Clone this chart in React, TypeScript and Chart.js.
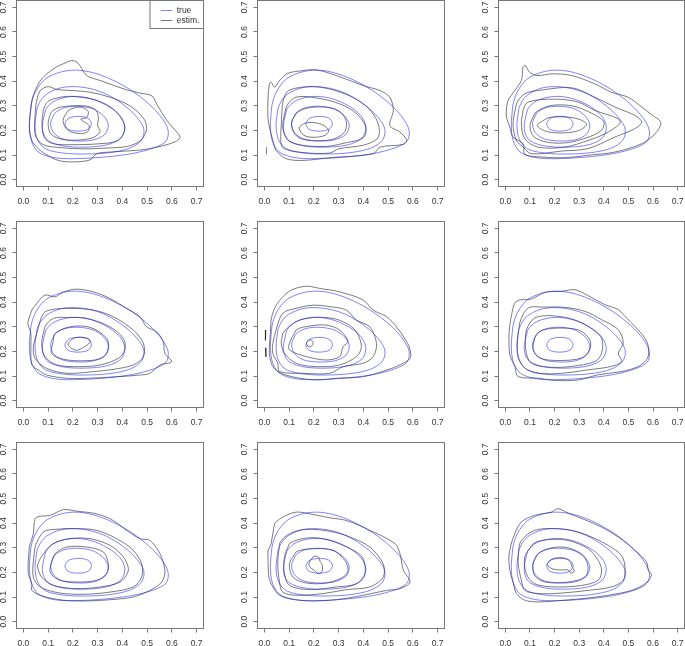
import React, { useEffect, useRef } from "react";
import { Chart, registerables } from "chart.js";

Chart.register(...registerables);

type Pt = [number, number];

// ---------- axis / legend data ----------
const tickValues: number[] = [0, 0.1, 0.2, 0.3, 0.4, 0.5, 0.6, 0.7];
const axisMin = -0.028;
const axisMax = 0.728;
const legendLabels: string[] = ["true", "estim."];

// ---------- true density contours (same in every panel) ----------
const trueContours: Pt[][] = [
  [[0.024,0.22],[0.03,0.3],[0.05,0.36],[0.09,0.41],[0.15,0.437],[0.21,0.445],[0.28,0.435],[0.36,0.405],[0.44,0.36],[0.51,0.305],[0.56,0.25],[0.585,0.2],[0.577,0.157],[0.53,0.13],[0.44,0.106],[0.32,0.091],[0.2,0.085],[0.12,0.09],[0.06,0.112],[0.032,0.158]],
  [[0.047,0.22],[0.055,0.29],[0.085,0.34],[0.14,0.37],[0.2,0.378],[0.27,0.37],[0.34,0.345],[0.41,0.3],[0.46,0.252],[0.487,0.205],[0.477,0.16],[0.43,0.128],[0.35,0.11],[0.25,0.104],[0.16,0.108],[0.09,0.125],[0.057,0.162]],
  [[0.077,0.225],[0.09,0.285],[0.13,0.322],[0.2,0.338],[0.27,0.33],[0.34,0.3],[0.39,0.26],[0.41,0.215],[0.395,0.17],[0.34,0.142],[0.25,0.132],[0.16,0.137],[0.1,0.158],[0.08,0.19]],
  [[0.11,0.228],[0.125,0.268],[0.165,0.292],[0.22,0.298],[0.28,0.288],[0.325,0.258],[0.343,0.222],[0.33,0.185],[0.285,0.162],[0.22,0.157],[0.16,0.165],[0.122,0.19]],
  [[0.168,0.227],[0.18,0.248],[0.22,0.257],[0.26,0.25],[0.275,0.228],[0.262,0.205],[0.22,0.197],[0.18,0.205]],
];

// ---------- estimated density contours, one list per panel ----------
const estimPanel1: Pt[][] = [
  [[0.024,0.214],[0.034,0.32],[0.067,0.4],[0.121,0.45],[0.175,0.477],[0.2,0.484],[0.222,0.472],[0.256,0.423],[0.31,0.403],[0.417,0.365],[0.47,0.352],[0.52,0.34],[0.54,0.305],[0.58,0.24],[0.62,0.193],[0.633,0.172],[0.612,0.153],[0.54,0.132],[0.47,0.12],[0.35,0.112],[0.296,0.105],[0.269,0.08],[0.2,0.072],[0.141,0.078],[0.087,0.105],[0.054,0.132],[0.034,0.16]],
  [[0.045,0.22],[0.05,0.3],[0.067,0.36],[0.1,0.378],[0.135,0.366],[0.2,0.362],[0.27,0.355],[0.35,0.335],[0.43,0.3],[0.485,0.25],[0.498,0.205],[0.475,0.16],[0.42,0.135],[0.33,0.128],[0.24,0.125],[0.15,0.13],[0.08,0.142],[0.05,0.175]],
  [[0.075,0.227],[0.08,0.28],[0.1,0.318],[0.15,0.335],[0.2,0.338],[0.296,0.322],[0.37,0.281],[0.41,0.214],[0.384,0.16],[0.31,0.146],[0.2,0.142],[0.12,0.146],[0.085,0.17]],
  [[0.1,0.23],[0.11,0.27],[0.14,0.292],[0.2,0.3],[0.26,0.298],[0.295,0.28],[0.303,0.25],[0.3,0.22],[0.31,0.195],[0.28,0.17],[0.2,0.16],[0.14,0.168],[0.108,0.19]],
  [[0.16,0.24],[0.18,0.28],[0.23,0.295],[0.262,0.277],[0.255,0.252],[0.232,0.245],[0.265,0.22],[0.26,0.195],[0.23,0.187],[0.18,0.2]],
];
const estimPanel2: Pt[][] = [
  [[0.014,0.254],[0.014,0.322],[0.02,0.389],[0.027,0.396],[0.041,0.376],[0.061,0.403],[0.095,0.432],[0.156,0.443],[0.21,0.446],[0.291,0.423],[0.4,0.382],[0.467,0.362],[0.507,0.335],[0.521,0.281],[0.507,0.22],[0.548,0.193],[0.575,0.16],[0.561,0.143],[0.467,0.132],[0.44,0.105],[0.264,0.089],[0.156,0.078],[0.088,0.085],[0.047,0.119],[0.034,0.16],[0.02,0.214]],
  [[0.068,0.22],[0.072,0.3],[0.09,0.355],[0.128,0.372],[0.196,0.378],[0.264,0.368],[0.345,0.34],[0.41,0.3],[0.45,0.25],[0.465,0.2],[0.455,0.165],[0.4,0.14],[0.3,0.125],[0.264,0.108],[0.156,0.11],[0.074,0.13],[0.066,0.175]],
  [[0.074,0.214],[0.088,0.295],[0.128,0.335],[0.21,0.332],[0.304,0.308],[0.37,0.27],[0.41,0.214],[0.4,0.17],[0.33,0.15],[0.25,0.135],[0.15,0.14],[0.095,0.16]],
  [[0.11,0.235],[0.13,0.27],[0.17,0.29],[0.24,0.295],[0.3,0.28],[0.33,0.24],[0.325,0.195],[0.28,0.165],[0.2,0.158],[0.14,0.17],[0.115,0.2]],
  [[0.14,0.21],[0.16,0.228],[0.2,0.232],[0.24,0.22],[0.26,0.2],[0.245,0.18],[0.2,0.172],[0.16,0.18]],
];
const estimOpen2: Pt[][] = [[[0.008,0.103],[0.008,0.132]]];
const estimPanel3: Pt[][] = [
  [[0.004,0.254],[0.004,0.281],[0.011,0.322],[0.038,0.362],[0.065,0.403],[0.072,0.457],[0.081,0.464],[0.099,0.436],[0.133,0.423],[0.187,0.43],[0.269,0.423],[0.364,0.389],[0.431,0.355],[0.499,0.335],[0.554,0.295],[0.6,0.26],[0.632,0.232],[0.608,0.186],[0.554,0.146],[0.445,0.112],[0.336,0.099],[0.241,0.089],[0.147,0.092],[0.079,0.103],[0.072,0.146],[0.031,0.173],[0.018,0.214]],
  [[0.031,0.227],[0.045,0.308],[0.079,0.349],[0.133,0.362],[0.269,0.373],[0.364,0.335],[0.445,0.295],[0.526,0.261],[0.554,0.234],[0.526,0.207],[0.445,0.173],[0.336,0.126],[0.228,0.116],[0.106,0.105],[0.072,0.132],[0.045,0.159]],
  [[0.065,0.227],[0.072,0.281],[0.092,0.315],[0.2,0.327],[0.296,0.315],[0.364,0.281],[0.459,0.247],[0.465,0.227],[0.404,0.186],[0.336,0.159],[0.241,0.132],[0.133,0.132],[0.079,0.166]],
  [[0.1,0.22],[0.12,0.27],[0.18,0.3],[0.27,0.3],[0.35,0.27],[0.4,0.235],[0.39,0.2],[0.33,0.17],[0.25,0.15],[0.17,0.152],[0.115,0.175]],
  [[0.13,0.22],[0.17,0.25],[0.24,0.255],[0.3,0.245],[0.33,0.225],[0.3,0.2],[0.24,0.19],[0.17,0.195]],
];
const estimPanel4: Pt[][] = [
  [[0.02,0.327],[0.034,0.368],[0.054,0.395],[0.087,0.429],[0.128,0.422],[0.162,0.442],[0.215,0.453],[0.283,0.442],[0.35,0.415],[0.417,0.375],[0.471,0.341],[0.498,0.3],[0.538,0.28],[0.565,0.24],[0.572,0.192],[0.599,0.158],[0.552,0.145],[0.511,0.111],[0.471,0.104],[0.377,0.097],[0.269,0.091],[0.175,0.091],[0.094,0.104],[0.061,0.124],[0.034,0.145],[0.03,0.206],[0.03,0.273],[0.018,0.31]],
  [[0.04,0.219],[0.054,0.273],[0.081,0.355],[0.121,0.371],[0.188,0.375],[0.283,0.368],[0.363,0.341],[0.444,0.287],[0.485,0.233],[0.485,0.179],[0.444,0.145],[0.363,0.127],[0.283,0.118],[0.175,0.111],[0.094,0.131],[0.047,0.172]],
  [[0.074,0.233],[0.087,0.3],[0.121,0.334],[0.175,0.338],[0.256,0.334],[0.35,0.3],[0.404,0.253],[0.41,0.206],[0.384,0.172],[0.31,0.145],[0.229,0.138],[0.135,0.145],[0.087,0.179]],
  [[0.114,0.192],[0.12,0.24],[0.128,0.273],[0.188,0.3],[0.269,0.298],[0.337,0.253],[0.343,0.206],[0.316,0.172],[0.242,0.162],[0.162,0.168]],
  [[0.18,0.23],[0.2,0.252],[0.235,0.258],[0.265,0.25],[0.27,0.237],[0.22,0.205],[0.195,0.212]],
];
const estimPanel5: Pt[][] = [
  [[0.023,0.26],[0.027,0.327],[0.041,0.375],[0.068,0.415],[0.108,0.449],[0.169,0.465],[0.223,0.456],[0.304,0.442],[0.399,0.409],[0.44,0.368],[0.494,0.341],[0.534,0.3],[0.575,0.24],[0.589,0.206],[0.589,0.172],[0.548,0.145],[0.494,0.124],[0.399,0.097],[0.291,0.091],[0.223,0.084],[0.142,0.091],[0.068,0.111],[0.034,0.138],[0.02,0.192]],
  [[0.034,0.233],[0.047,0.287],[0.074,0.355],[0.128,0.375],[0.196,0.388],[0.264,0.382],[0.331,0.368],[0.372,0.327],[0.426,0.3],[0.453,0.233],[0.44,0.179],[0.399,0.152],[0.318,0.138],[0.264,0.111],[0.156,0.111],[0.061,0.118],[0.054,0.152],[0.034,0.192]],
  [[0.068,0.233],[0.074,0.273],[0.128,0.321],[0.196,0.338],[0.277,0.334],[0.331,0.314],[0.372,0.28],[0.392,0.219],[0.372,0.179],[0.304,0.145],[0.21,0.138],[0.128,0.152],[0.081,0.192]],
  [[0.101,0.233],[0.128,0.287],[0.183,0.303],[0.25,0.307],[0.304,0.287],[0.338,0.24],[0.318,0.219],[0.304,0.179],[0.25,0.165],[0.169,0.179],[0.101,0.206]],
  [[0.17,0.233],[0.175,0.243],[0.185,0.247],[0.195,0.24],[0.196,0.228],[0.187,0.219],[0.175,0.222]],
];
const estimOpen5: Pt[][] = [[[0.006,0.287],[0.004,0.245]], [[0.004,0.215],[0.006,0.178]]];
const estimPanel6: Pt[][] = [
  [[0.018,0.186],[0.014,0.261],[0.024,0.342],[0.045,0.404],[0.106,0.413],[0.16,0.44],[0.228,0.444],[0.282,0.451],[0.336,0.427],[0.404,0.39],[0.459,0.37],[0.486,0.342],[0.526,0.302],[0.567,0.254],[0.581,0.22],[0.578,0.173],[0.54,0.139],[0.472,0.118],[0.377,0.105],[0.296,0.084],[0.201,0.082],[0.133,0.091],[0.052,0.098],[0.038,0.139]],
  [[0.049,0.247],[0.058,0.315],[0.092,0.376],[0.16,0.38],[0.242,0.379],[0.323,0.363],[0.391,0.329],[0.459,0.288],[0.479,0.234],[0.459,0.193],[0.472,0.159],[0.431,0.139],[0.336,0.125],[0.228,0.111],[0.133,0.111],[0.079,0.132],[0.052,0.179]],
  [[0.081,0.247],[0.085,0.288],[0.119,0.336],[0.187,0.345],[0.269,0.332],[0.336,0.302],[0.391,0.254],[0.391,0.193],[0.364,0.159],[0.269,0.139],[0.174,0.136],[0.106,0.152],[0.085,0.193]],
  [[0.113,0.207],[0.119,0.254],[0.147,0.285],[0.228,0.295],[0.303,0.285],[0.343,0.247],[0.343,0.207],[0.309,0.173],[0.215,0.163],[0.14,0.173]],
];
const estimPanel7: Pt[][] = [
  [[0.02,0.249],[0.024,0.303],[0.04,0.357],[0.047,0.418],[0.067,0.428],[0.108,0.432],[0.162,0.455],[0.215,0.449],[0.296,0.438],[0.363,0.411],[0.417,0.371],[0.471,0.337],[0.511,0.33],[0.552,0.276],[0.572,0.208],[0.559,0.161],[0.511,0.127],[0.444,0.1],[0.35,0.089],[0.256,0.084],[0.162,0.087],[0.081,0.103],[0.034,0.127],[0.034,0.154],[0.02,0.195]],
  [[0.038,0.222],[0.047,0.303],[0.081,0.364],[0.128,0.375],[0.215,0.378],[0.296,0.371],[0.377,0.337],[0.444,0.29],[0.478,0.235],[0.478,0.181],[0.444,0.141],[0.35,0.12],[0.242,0.111],[0.148,0.116],[0.081,0.134],[0.054,0.154],[0.04,0.181]],
  [[0.057,0.222],[0.061,0.242],[0.081,0.276],[0.121,0.317],[0.188,0.337],[0.269,0.337],[0.35,0.31],[0.404,0.263],[0.424,0.208],[0.39,0.161],[0.31,0.141],[0.215,0.134],[0.121,0.147],[0.074,0.181]],
  [[0.108,0.202],[0.114,0.242],[0.128,0.276],[0.175,0.303],[0.256,0.303],[0.323,0.283],[0.343,0.235],[0.336,0.195],[0.296,0.168],[0.215,0.161],[0.141,0.17]],
];
const estimPanel8: Pt[][] = [
  [[0.018,0.181],[0.014,0.283],[0.027,0.317],[0.041,0.398],[0.047,0.405],[0.074,0.425],[0.128,0.445],[0.183,0.438],[0.264,0.422],[0.331,0.411],[0.426,0.371],[0.528,0.317],[0.548,0.276],[0.562,0.208],[0.589,0.161],[0.548,0.134],[0.494,0.127],[0.399,0.107],[0.291,0.089],[0.183,0.084],[0.101,0.093],[0.061,0.107],[0.034,0.141]],
  [[0.054,0.235],[0.061,0.317],[0.101,0.357],[0.169,0.375],[0.264,0.367],[0.345,0.344],[0.426,0.303],[0.48,0.235],[0.48,0.181],[0.426,0.141],[0.331,0.13],[0.237,0.114],[0.128,0.107],[0.074,0.12],[0.061,0.161]],
  [[0.081,0.263],[0.101,0.317],[0.183,0.341],[0.264,0.33],[0.359,0.29],[0.399,0.256],[0.406,0.195],[0.372,0.154],[0.291,0.141],[0.183,0.13],[0.101,0.147],[0.081,0.195]],
  [[0.101,0.235],[0.128,0.283],[0.196,0.296],[0.277,0.29],[0.325,0.249],[0.338,0.208],[0.318,0.181],[0.25,0.157],[0.169,0.157],[0.115,0.181]],
  [[0.18,0.235],[0.195,0.262],[0.215,0.265],[0.225,0.245],[0.235,0.225],[0.23,0.2],[0.215,0.196],[0.2,0.21],[0.185,0.22]],
];
const estimPanel9: Pt[][] = [
  [[0.014,0.263],[0.022,0.31],[0.038,0.357],[0.065,0.405],[0.119,0.432],[0.187,0.445],[0.214,0.459],[0.255,0.441],[0.323,0.414],[0.391,0.384],[0.459,0.344],[0.526,0.29],[0.574,0.242],[0.581,0.208],[0.594,0.188],[0.567,0.154],[0.513,0.127],[0.418,0.107],[0.309,0.093],[0.201,0.084],[0.133,0.08],[0.079,0.087],[0.045,0.114],[0.031,0.161],[0.018,0.208]],
  [[0.052,0.235],[0.054,0.29],[0.065,0.33],[0.119,0.371],[0.201,0.378],[0.282,0.368],[0.35,0.344],[0.418,0.31],[0.472,0.269],[0.486,0.222],[0.479,0.168],[0.431,0.141],[0.336,0.127],[0.228,0.116],[0.133,0.114],[0.079,0.127],[0.065,0.168]],
  [[0.079,0.263],[0.113,0.317],[0.174,0.333],[0.255,0.33],[0.336,0.296],[0.377,0.249],[0.391,0.208],[0.377,0.168],[0.309,0.147],[0.201,0.141],[0.119,0.154],[0.085,0.195]],
  [[0.113,0.235],[0.133,0.276],[0.187,0.3],[0.255,0.3],[0.316,0.269],[0.336,0.222],[0.323,0.181],[0.255,0.161],[0.16,0.161],[0.119,0.188]],
  [[0.17,0.232],[0.185,0.252],[0.22,0.26],[0.25,0.255],[0.265,0.24],[0.27,0.225],[0.28,0.205],[0.265,0.198],[0.255,0.21],[0.225,0.21],[0.19,0.215]],
];

const panelClosed: Pt[][][] = [estimPanel1, estimPanel2, estimPanel3, estimPanel4, estimPanel5, estimPanel6, estimPanel7, estimPanel8, estimPanel9];
const panelOpen: Pt[][][] = [[], estimOpen2, [], [], estimOpen5, [], [], [], []];

// ---------- styling ----------
const TRUE_COLOR = "rgba(30,30,255,0.62)";
const EST_COLOR = "rgba(0,0,0,0.58)";
const FRAME_COLOR = "#777";
const TEXT_COLOR = "#333";
const FONT_FAMILY = "'Liberation Sans', Arial, Helvetica, sans-serif";
const FONT_SIZE = 8.5;

const colLeft = [0, 241, 482];
const rowTop = [0, 221, 442];
const AXIS_W = 16.5;

const toXY = (pts: Pt[]) => pts.map(([x, y]) => ({ x, y }));

function contourDataset(pts: Pt[], label: string, color: string, closed: boolean) {
  const data = closed ? toXY([...pts, pts[0], pts[1]]) : toXY(pts);
  return {
    label,
    data,
    showLine: true,
    borderColor: color,
    borderWidth: 0.9,
    pointRadius: 0,
    pointHoverRadius: 0,
    fill: false,
    tension: closed ? 0.32 : 0,
    segment: closed
      ? { borderColor: (c: any) => (c.p0DataIndex === 0 ? "rgba(0,0,0,0)" : undefined) }
      : undefined,
  };
}

function Panel({ idx }: { idx: number }) {
  const ref = useRef<HTMLCanvasElement>(null);
  const col = idx % 3;
  const row = Math.floor(idx / 3);
  const W = 205;
  const H = row === 2 ? 204 : 215;
  const boxW = col === 2 ? 186 : 187;
  const boxH = 186;
  const padTop = 0.5;

  useEffect(() => {
    if (!ref.current) return;
    const datasets: any[] = [];
    trueContours.forEach((c) => datasets.push(contourDataset(c, legendLabels[0], TRUE_COLOR, true)));
    panelClosed[idx].forEach((c) => datasets.push(contourDataset(c, legendLabels[1], EST_COLOR, true)));
    panelOpen[idx].forEach((c) => datasets.push(contourDataset(c, legendLabels[1], EST_COLOR, false)));

    const showLegend = idx === 0;
    const framePlugin = {
      id: "frameAndLegend",
      afterDraw(chart: any) {
        const { ctx, chartArea: a } = chart;
        ctx.save();
        ctx.strokeStyle = FRAME_COLOR;
        ctx.lineWidth = 1;
        ctx.strokeRect(a.left, a.top, a.right - a.left, a.bottom - a.top);
        if (showLegend) {
          const lx = a.right - 53.5;
          const ly = a.top;
          const lh = 28;
          ctx.fillStyle = "#fff";
          ctx.fillRect(lx, ly, a.right - lx, lh);
          ctx.strokeRect(lx, ly, a.right - lx, lh);
          const colors = [TRUE_COLOR, EST_COLOR];
          legendLabels.forEach((label, i) => {
            const y = ly + 10 + i * 10;
            ctx.strokeStyle = colors[i];
            ctx.lineWidth = 0.9;
            ctx.beginPath();
            ctx.moveTo(lx + 10.7, y);
            ctx.lineTo(lx + 22.3, y);
            ctx.stroke();
            ctx.fillStyle = TEXT_COLOR;
            ctx.font = `${FONT_SIZE}px ${FONT_FAMILY}`;
            ctx.textBaseline = "middle";
            ctx.textAlign = "left";
            ctx.fillText(label, lx + 26.7, y);
          });
        }
        ctx.restore();
      },
    };

    const setTicks = (s: any) => {
      s.ticks = tickValues.map((v) => ({ value: v }));
    };
    const tickFont = { family: FONT_FAMILY, size: FONT_SIZE };
    const grid = {
      display: true,
      drawOnChartArea: false,
      drawTicks: true,
      tickLength: 4,
      color: FRAME_COLOR,
      lineWidth: 1,
    };

    const chart = new Chart(ref.current, {
      type: "scatter",
      data: { datasets },
      options: {
        responsive: false,
        animation: false,
        events: [],
        layout: { padding: { left: 0, top: padTop, right: W - AXIS_W - boxW, bottom: 0 } },
        plugins: { legend: { display: false }, tooltip: { enabled: false } },
        scales: {
          x: {
            type: "linear",
            min: axisMin,
            max: axisMax,
            bounds: "data",
            afterBuildTicks: setTicks,
            afterFit: (s: any) => {
              s.height = H - padTop - boxH;
              s.paddingLeft = 0;
              s.paddingRight = 0;
            },
            grid,
            border: { display: false },
            ticks: {
              autoSkip: false,
              maxRotation: 0,
              minRotation: 0,
              padding: 6,
              color: TEXT_COLOR,
              font: tickFont,
              callback: (v: any) => Number(v).toFixed(1),
            },
          },
          y: {
            type: "linear",
            min: axisMin,
            max: axisMax,
            bounds: "data",
            afterBuildTicks: setTicks,
            afterFit: (s: any) => {
              s.width = AXIS_W;
              s.paddingTop = 0;
              s.paddingBottom = 0;
            },
            grid,
            border: { display: false },
            ticks: {
              autoSkip: false,
              minRotation: 90,
              maxRotation: 90,
              crossAlign: "center",
              padding: 2.5,
              color: TEXT_COLOR,
              font: tickFont,
              callback: (v: any) => Number(v).toFixed(1),
            },
          },
        },
      } as any,
      plugins: [framePlugin],
    });
    return () => chart.destroy();
  }, []);

  return (
    <canvas
      ref={ref}
      width={W}
      height={H}
      style={{ position: "absolute", left: colLeft[col], top: rowTop[row], width: W, height: H }}
    />
  );
}

export default function App() {
  return (
    <div
      style={{
        position: "absolute",
        left: 0,
        top: 0,
        width: 685,
        height: 646,
        overflow: "hidden",
        background: "#fff",
      }}
    >
      {Array.from({ length: 9 }, (_, i) => (
        <Panel key={i} idx={i} />
      ))}
    </div>
  );
}
